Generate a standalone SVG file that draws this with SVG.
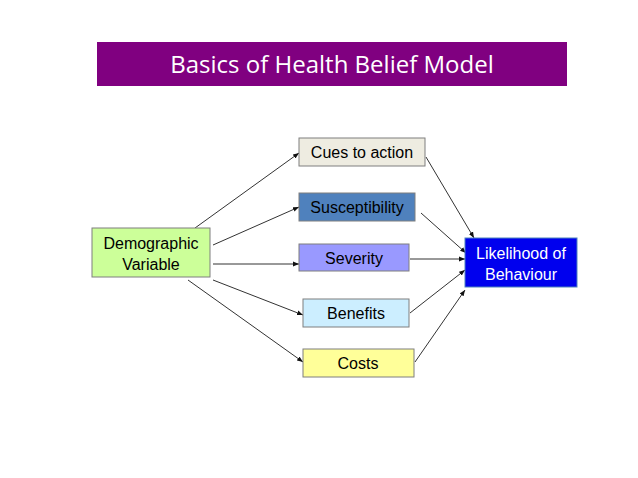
<svg xmlns="http://www.w3.org/2000/svg" width="638" height="478" viewBox="0 0 638 478">
<style>
.b{stroke:#7f7f7f;stroke-width:1}
.t{font-family:"Liberation Sans",Arial,sans-serif;font-size:16px;text-anchor:middle}
.c line{stroke:#333;stroke-width:1;marker-end:url(#a)}
</style>
<defs><marker id="a" viewBox="0 0 10 10" refX="10" refY="5" markerWidth="6" markerHeight="6" orient="auto"><path d="M0,1L10,5L0,9z" fill="#111"/></marker></defs>
<rect width="638" height="478" fill="#fff"/>
<g id="title"><rect x="97" y="42" width="470" height="44" fill="#800080"/><text x="332" y="73" font-family="Open Sans,'Liberation Sans',sans-serif" font-size="24" fill="#fff" text-anchor="middle">Basics of Health Belief Model</text></g>
<g class="c">
<line x1="195" y1="228" x2="299" y2="153"/>
<line x1="213" y1="245" x2="299" y2="207"/>
<line x1="213" y1="264" x2="299" y2="264"/>
<line x1="213" y1="280" x2="303" y2="315"/>
<line x1="188" y1="280" x2="303" y2="362"/>
<line x1="426" y1="157" x2="474" y2="238"/>
<line x1="421" y1="213" x2="466" y2="253"/>
<line x1="410" y1="259" x2="465" y2="259"/>
<line x1="410" y1="313" x2="465" y2="270"/>
<line x1="415" y1="362" x2="465" y2="290"/>
</g>
<g id="demo"><rect class="b" x="92" y="228" width="118" height="49" fill="#ccff99"/><text class="t" x="151" y="249">Demographic</text><text class="t" x="151" y="270">Variable</text></g>
<g id="cues"><rect class="b" x="299" y="138" width="126" height="28" fill="#eeece1"/><text class="t" x="362" y="158">Cues to action</text></g>
<g id="susc"><rect class="b" x="299" y="193" width="116" height="28" fill="#4f81bd"/><text class="t" x="357" y="213">Susceptibility</text></g>
<g id="sev"><rect class="b" x="299" y="244" width="110" height="27" fill="#9999ff"/><text class="t" x="354" y="264">Severity</text></g>
<g id="ben"><rect class="b" x="303" y="299" width="106" height="28" fill="#cceeff"/><text class="t" x="356" y="319">Benefits</text></g>
<g id="costs"><rect class="b" x="303" y="349" width="111" height="28" fill="#ffff99"/><text class="t" x="358" y="369">Costs</text></g>
<g id="like"><rect x="465" y="238" width="112" height="49" fill="#0000ee" stroke="#4f81bd"/><text class="t" x="521" y="259" fill="#fff">Likelihood of</text><text class="t" x="521" y="280" fill="#fff">Behaviour</text></g>
</svg>
